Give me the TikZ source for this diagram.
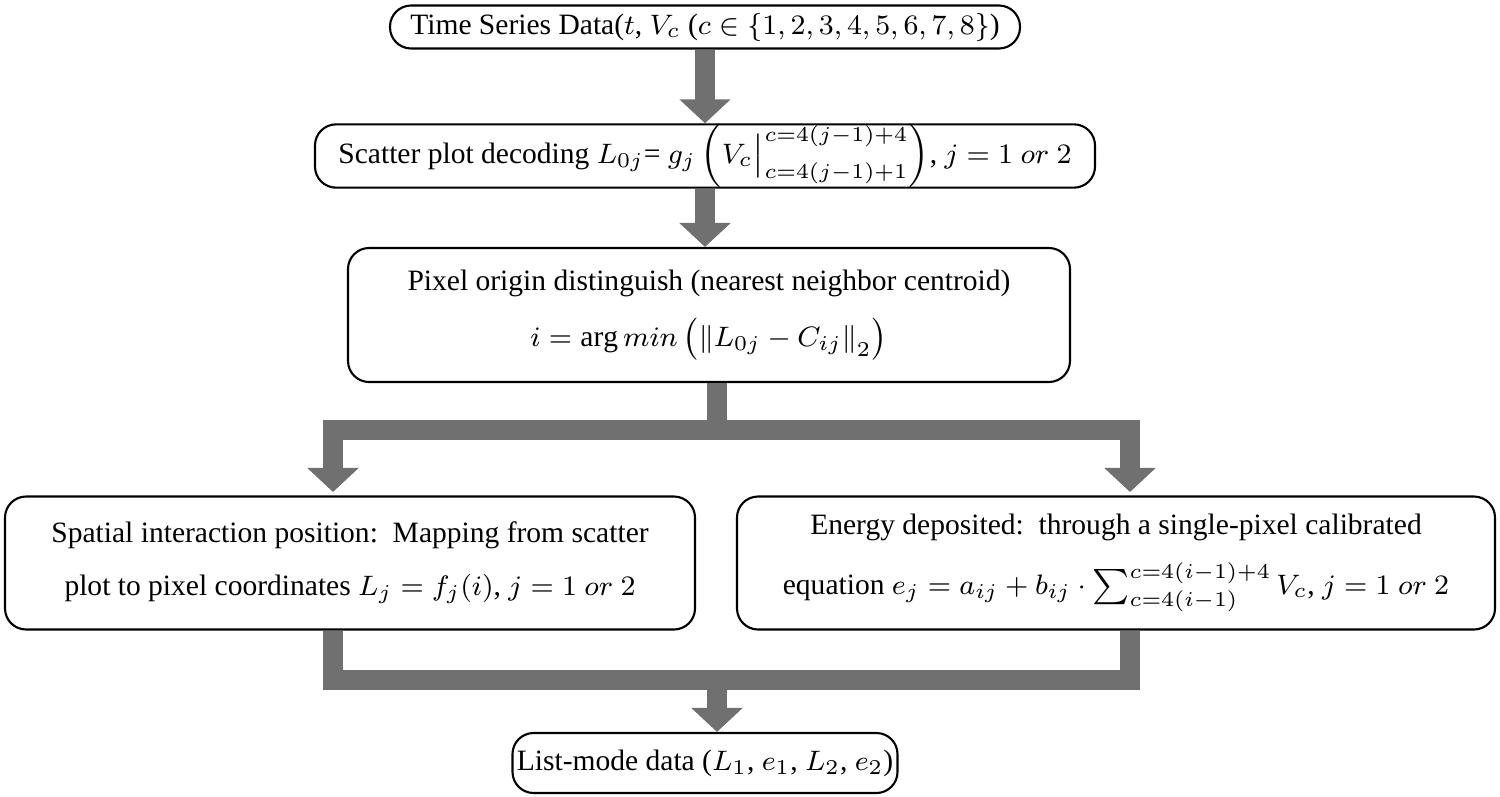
\documentclass[tikz,border=0pt]{standalone}
\usepackage{fontspec}
\setmainfont{Liberation Serif}
\usetikzlibrary{arrows.meta}
\begin{document}
\begin{tikzpicture}[x=0.01cm,y=-0.01cm,
 box/.style={draw,rounded corners=6pt,line width=0.6pt,align=center,font=\fontsize{8.4}{12}\selectfont,inner sep=0pt},
 bar/.style={draw={rgb,255:red,112;green,112;blue,112},line width=0.2cm},
 arr/.style={bar,-{Triangle[width=0.5cm,length=0.24cm]}}]
\useasboundingbox (0,0) rectangle (1500,797);
\node[box,minimum width=630*0.01cm,minimum height=43*0.01cm] (b1) at (705,27) {Time Series Data($t$, $V_c$ ($c\in\{1,2,3,4,5,6,7,8\}$)};
\node[box,minimum width=780*0.01cm,minimum height=58*0.01cm] (b2) at (705,156) {Scatter plot decoding $L_{0j}$= $g_j\left(V_c\big|_{c=4(j-1)+1}^{c=4(j-1)+4}\right)$, $j=1\ or\ 2$};
\node[box,minimum width=722*0.01cm,minimum height=134*0.01cm] (b3) at (709,315) {Pixel origin distinguish (nearest neighbor centroid)\\[4pt] $i=\arg min\left(\left\|L_{0j}-C_{ij}\right\|_2\right)$};
\node[box,minimum width=690*0.01cm,minimum height=133*0.01cm] (b4) at (350,563) {Spatial interaction position:\ \ Mapping from scatter\\[3pt] plot to pixel coordinates $L_j=f_j(i)$, $j=1\ or\ 2$};
\node[box,minimum width=758*0.01cm,minimum height=133*0.01cm] (b5) at (1116,563) {Energy deposited:\ \ through a single-pixel calibrated\\[5pt] equation $e_j=a_{ij}+b_{ij}\cdot\sum_{c=4(i-1)}^{c=4(i-1)+4}V_c$, $j=1\ or\ 2$};
\node[box,minimum width=385*0.01cm,minimum height=60*0.01cm] (b6) at (705,763) {List-mode data ($L_1$, $e_1$, $L_2$, $e_2$)};
\coordinate (a1) at (b1.south);
\coordinate (a2) at (b2.south);
\draw[arr] (a1) -- (a1 |- b2.north);
\draw[arr] (a2) -- (a2 |- b3.north);
\coordinate (s) at (717,430);
\coordinate (sl) at (333,430);
\coordinate (sr) at (1130,430);
\coordinate (tl) at (333,492);
\coordinate (tr) at (1130,492);
\draw[bar] (s |- b3.south) -- (s);
\draw[bar] (323,430) -- (1140,430);
\draw[arr] (sl) -- (tl);
\draw[arr] (sr) -- (tr);
\coordinate (ml) at (333,680);
\coordinate (mr) at (1130,680);
\coordinate (m) at (717,680);
\draw[bar] (ml |- b4.south) -- (ml);
\draw[bar] (mr |- b5.south) -- (mr);
\draw[bar] (323,680) -- (1140,680);
\draw[arr] (m) -- (m |- b6.north);
\end{tikzpicture}
\end{document}
